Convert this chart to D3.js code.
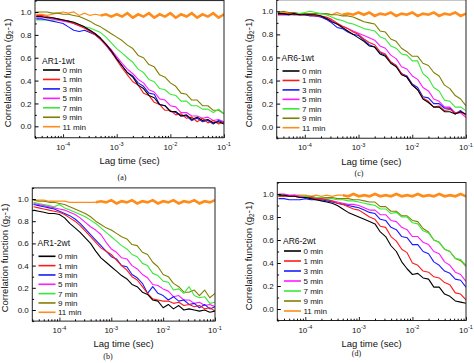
<!DOCTYPE html>
<html>
<head>
<meta charset="utf-8">
<script src="https://cdn.jsdelivr.net/npm/d3@7"></script>
<style>
  body { margin: 0; background: #fff; }
  svg { display: block; font-family: "Liberation Sans", Arial, sans-serif; }
</style>
</head>
<body>
<svg id="chart" width="474" height="363"></svg>
<script>
// lag time grid (sec), 10 points per decade
const lagTime = [3.16e-5, 3.98e-5, 5.01e-5, 6.31e-5, 7.94e-5, 1.00e-4, 1.26e-4, 1.58e-4, 2.00e-4, 2.51e-4,
  3.16e-4, 3.98e-4, 5.01e-4, 6.31e-4, 7.94e-4, 1.00e-3, 1.26e-3, 1.58e-3, 2.00e-3, 2.51e-3,
  3.16e-3, 3.98e-3, 5.01e-3, 6.31e-3, 7.94e-3, 1.00e-2, 1.26e-2, 1.58e-2, 2.00e-2, 2.51e-2,
  3.16e-2, 3.98e-2, 5.01e-2, 6.31e-2, 7.94e-2, 1.00e-1];

const seriesNames = ["0 min", "1 min", "3 min", "5 min", "7 min", "9 min", "11 min"];
const seriesColors = ["#000000", "#ff1a1a", "#1a1aff", "#ff1aff", "#3ae83a", "#808000", "#ff8c1a"];
const xTicks = [1e-4, 1e-3, 1e-2, 1e-1];
const xTickExp = ["-4", "-3", "-2", "-1"];
const yTicks = [0, 0.2, 0.4, 0.6, 0.8, 1.0];

// (a) AR1-1wt
const ar1_1wt = [
  [0.96,0.96,0.95,0.95,0.94,0.93,0.92,0.91,0.89,0.87,0.84,0.81,0.77,0.72,0.66,0.59,0.53,0.47,0.43,0.36,0.33,0.27,0.25,0.19,0.18,0.13,0.13,0.09,0.10,0.06,0.08,0.05,0.06,0.03,0.04,0.02],
  [0.97,0.97,0.96,0.95,0.94,0.93,0.92,0.90,0.88,0.86,0.83,0.80,0.76,0.71,0.65,0.58,0.51,0.45,0.39,0.36,0.29,0.27,0.21,0.19,0.14,0.14,0.10,0.11,0.07,0.08,0.04,0.07,0.03,0.05,0.02,0.04],
  [0.94,0.94,0.93,0.92,0.91,0.90,0.87,0.84,0.83,0.84,0.82,0.80,0.76,0.71,0.65,0.59,0.53,0.47,0.44,0.38,0.35,0.29,0.28,0.19,0.18,0.13,0.12,0.09,0.09,0.05,0.07,0.04,0.05,0.02,0.05,0.03],
  [0.95,0.95,0.95,0.94,0.93,0.92,0.91,0.90,0.88,0.86,0.84,0.81,0.77,0.72,0.67,0.61,0.55,0.50,0.46,0.41,0.38,0.32,0.30,0.24,0.23,0.18,0.17,0.12,0.12,0.09,0.09,0.07,0.08,0.05,0.06,0.04],
  [0.93,0.93,0.93,0.93,0.93,0.93,0.92,0.91,0.89,0.87,0.86,0.84,0.82,0.78,0.73,0.68,0.64,0.60,0.56,0.50,0.47,0.41,0.39,0.33,0.32,0.28,0.27,0.22,0.22,0.18,0.18,0.15,0.15,0.12,0.15,0.11],
  [1.00,1.00,1.00,0.99,0.99,0.98,0.98,0.97,0.96,0.94,0.92,0.89,0.87,0.84,0.81,0.78,0.75,0.71,0.68,0.62,0.60,0.54,0.52,0.45,0.43,0.38,0.35,0.29,0.28,0.23,0.23,0.18,0.18,0.14,0.14,0.11],
  [0.98,0.98,0.97,0.98,0.99,1.00,0.99,1.00,0.97,0.99,0.97,0.98,0.97,0.98,0.96,0.98,0.96,0.99,0.95,0.98,0.96,0.99,0.95,0.98,0.96,0.99,0.95,0.98,0.96,0.99,0.95,0.98,0.96,0.99,0.95,0.98]
];

// (c) AR6-1wt
const ar6_1wt = [
  [0.98,0.98,0.97,0.98,0.97,0.97,0.97,0.97,0.96,0.94,0.91,0.89,0.86,0.83,0.80,0.77,0.74,0.70,0.69,0.63,0.61,0.55,0.52,0.45,0.43,0.36,0.32,0.24,0.21,0.17,0.17,0.13,0.13,0.11,0.13,0.11],
  [0.97,0.98,0.98,0.97,0.97,0.97,0.97,0.96,0.96,0.95,0.93,0.90,0.87,0.85,0.82,0.80,0.76,0.73,0.71,0.65,0.63,0.56,0.53,0.46,0.43,0.36,0.32,0.25,0.22,0.17,0.18,0.14,0.15,0.12,0.13,0.10],
  [0.97,0.97,0.97,0.97,0.97,0.97,0.96,0.96,0.95,0.93,0.90,0.86,0.85,0.82,0.80,0.79,0.75,0.71,0.69,0.64,0.62,0.56,0.53,0.46,0.44,0.37,0.34,0.26,0.25,0.20,0.20,0.16,0.16,0.11,0.14,0.10],
  [0.97,0.97,0.97,0.98,0.97,0.97,0.97,0.96,0.95,0.94,0.92,0.89,0.87,0.85,0.83,0.81,0.79,0.77,0.75,0.70,0.68,0.62,0.59,0.52,0.50,0.44,0.41,0.34,0.31,0.24,0.22,0.17,0.17,0.12,0.12,0.08],
  [0.98,0.98,0.97,0.98,0.98,0.99,1.00,0.99,0.98,0.97,0.95,0.93,0.92,0.90,0.89,0.87,0.85,0.84,0.83,0.78,0.76,0.70,0.68,0.63,0.62,0.57,0.57,0.46,0.42,0.34,0.31,0.23,0.22,0.17,0.17,0.14],
  [0.99,1.00,0.99,0.99,0.98,0.98,0.98,0.98,0.98,0.98,0.97,0.97,0.96,0.96,0.95,0.93,0.91,0.90,0.89,0.83,0.82,0.76,0.74,0.68,0.65,0.61,0.61,0.55,0.53,0.47,0.44,0.36,0.33,0.27,0.24,0.18],
  [0.99,0.99,0.98,0.98,0.97,0.98,0.97,0.98,0.98,0.98,0.97,0.99,0.97,0.98,0.97,0.99,0.97,0.99,0.96,0.98,0.97,0.99,0.96,0.98,0.97,0.99,0.96,0.98,0.97,0.99,0.96,0.98,0.97,0.99,0.96,0.98]
];

// (b) AR1-2wt
const ar1_2wt = [
  [0.90,0.89,0.88,0.87,0.87,0.86,0.83,0.78,0.74,0.70,0.65,0.60,0.53,0.47,0.43,0.39,0.35,0.31,0.28,0.23,0.21,0.16,0.14,0.09,0.08,0.02,0.05,0.01,0.04,0.00,0.01,0.00,-0.01,0.00,-0.02,-0.01],
  [0.93,0.92,0.91,0.90,0.89,0.88,0.86,0.83,0.80,0.76,0.71,0.66,0.61,0.56,0.53,0.50,0.45,0.40,0.36,0.30,0.27,0.21,0.15,0.10,0.09,0.08,0.08,0.06,0.07,0.04,0.05,0.03,0.04,0.01,0.02,-0.01],
  [0.95,0.94,0.93,0.92,0.91,0.89,0.87,0.85,0.82,0.78,0.73,0.68,0.63,0.58,0.53,0.48,0.46,0.40,0.39,0.32,0.29,0.24,0.15,0.21,0.15,0.13,0.09,0.12,0.08,0.09,0.05,0.06,0.02,0.05,0.01,0.03],
  [0.96,0.95,0.94,0.93,0.92,0.91,0.90,0.88,0.86,0.83,0.79,0.75,0.72,0.68,0.61,0.55,0.52,0.47,0.46,0.40,0.37,0.32,0.29,0.23,0.22,0.19,0.17,0.12,0.13,0.09,0.09,0.06,0.07,0.04,0.05,0.03],
  [0.97,0.96,0.95,0.94,0.93,0.95,0.92,0.90,0.88,0.86,0.84,0.81,0.78,0.74,0.70,0.66,0.62,0.58,0.55,0.50,0.48,0.42,0.40,0.33,0.31,0.26,0.25,0.18,0.19,0.15,0.21,0.13,0.11,0.12,0.06,0.07],
  [0.99,0.98,0.98,0.97,0.97,0.96,0.95,0.93,0.91,0.89,0.87,0.84,0.80,0.77,0.74,0.72,0.69,0.66,0.64,0.59,0.58,0.52,0.50,0.43,0.39,0.32,0.30,0.24,0.21,0.16,0.16,0.18,0.13,0.18,0.11,0.15],
  [0.99,0.99,0.99,0.98,0.98,0.98,0.98,0.97,0.97,0.97,0.97,0.97,0.97,0.98,0.97,0.99,0.96,0.98,0.97,0.99,0.96,0.98,0.97,0.99,0.96,0.98,0.97,0.99,0.96,0.98,0.97,0.99,0.96,0.98,0.97,0.99]
];

// (d) AR6-2wt
const ar6_2wt = [
  [0.99,0.99,0.98,0.98,0.97,0.97,0.96,0.95,0.94,0.93,0.92,0.90,0.87,0.84,0.82,0.80,0.78,0.76,0.74,0.67,0.63,0.55,0.50,0.41,0.35,0.30,0.31,0.27,0.26,0.19,0.19,0.13,0.11,0.07,0.06,0.05],
  [0.98,0.98,0.98,0.98,0.97,0.97,0.97,0.96,0.96,0.95,0.94,0.92,0.91,0.89,0.87,0.86,0.83,0.80,0.78,0.72,0.71,0.63,0.59,0.52,0.49,0.40,0.38,0.33,0.32,0.28,0.27,0.23,0.21,0.14,0.13,0.08],
  [0.96,0.96,0.95,0.95,0.95,0.96,0.95,0.95,0.95,0.94,0.93,0.92,0.91,0.90,0.89,0.88,0.86,0.84,0.83,0.78,0.77,0.71,0.69,0.63,0.62,0.56,0.56,0.50,0.48,0.41,0.38,0.33,0.31,0.26,0.25,0.19],
  [1.00,1.00,0.99,0.99,0.98,0.97,0.97,0.96,0.96,0.95,0.94,0.93,0.92,0.91,0.91,0.90,0.88,0.86,0.86,0.82,0.82,0.77,0.76,0.71,0.69,0.63,0.63,0.58,0.56,0.50,0.48,0.41,0.38,0.32,0.30,0.24],
  [0.98,0.98,0.98,0.98,0.98,0.98,0.97,0.97,0.97,0.96,0.96,0.95,0.95,0.94,0.94,0.93,0.92,0.91,0.90,0.87,0.87,0.83,0.84,0.80,0.80,0.75,0.74,0.68,0.66,0.60,0.58,0.52,0.50,0.44,0.43,0.38],
  [0.98,0.98,0.98,0.98,0.98,0.98,0.98,0.97,0.97,0.97,0.97,0.96,0.96,0.96,0.95,0.95,0.94,0.93,0.93,0.89,0.89,0.85,0.85,0.81,0.81,0.77,0.76,0.70,0.67,0.60,0.58,0.52,0.50,0.44,0.42,0.37],
  [0.98,0.98,0.98,0.99,0.99,0.99,0.98,0.99,0.98,0.99,0.98,0.99,0.99,0.98,1.00,0.98,0.99,0.98,1.00,0.98,0.99,0.98,1.00,0.98,0.99,0.98,1.00,0.98,0.99,0.98,1.00,0.98,0.99,0.98,1.00,0.98]
];

const svg = d3.select("#chart");

const panels = [
  { data: ar1_1wt, title: "AR1-1wt", tag: "(a)", left: 35, right: 224, y1: 12, y0: 126.3,
    legX: 43, legTitleY: 63.5, legY: 70, legStep: 9.45, ylabX: 11, ylabY: 73, xlabY: 164, tagX: 122, tagY: 179.5 },
  { data: ar6_1wt, title: "AR6-1wt", tag: "(c)", left: 276.7, right: 466, y1: 11.3, y0: 126.7,
    legX: 282.5, legTitleY: 60.5, legY: 71, legStep: 9.45, ylabX: 251.5, ylabY: 73, xlabY: 165, tagX: 359, tagY: 176 },
  { data: ar1_2wt, title: "AR1-2wt", tag: "(b)", left: 32.3, right: 215, y1: 199, y0: 310,
    legX: 38.5, legTitleY: 245.5, legY: 256.3, legStep: 9.33, ylabX: 8, ylabY: 258, xlabY: 346.5, tagX: 108, tagY: 359 },
  { data: ar6_2wt, title: "AR6-2wt", tag: "(d)", left: 277.3, right: 466, y1: 194, y0: 309,
    legX: 284, legTitleY: 244, legY: 251, legStep: 10, ylabX: 252, ylabY: 256, xlabY: 346.5, tagX: 356.5, tagY: 356 }
];

const ink = "#111";

panels.forEach((p, pi) => {
  const x = d3.scaleLog().domain([3e-5, 0.1]).range([p.left, p.right]);
  const y = d3.scaleLinear().domain([0, 1]).range([p.y0, p.y1]);
  const top = y(1.1), bottom = y(-0.1);

  const g = svg.append("g");

  g.append("clipPath").attr("id", "clip" + pi)
    .append("rect")
      .attr("x", p.left).attr("y", top)
      .attr("width", p.right - p.left).attr("height", bottom - top);

  const line = d3.line()
    .x((d, i) => x(lagTime[i]))
    .y(d => y(d));

  const plot = g.append("g").attr("clip-path", `url(#clip${pi})`);

  // 11 min (orange) first, noisy band gets thicker at long lag times
  const orange = p.data[6];
  plot.append("path")
    .attr("fill", "none").attr("stroke", seriesColors[6]).attr("stroke-width", 1.2)
    .attr("d", line.defined((d, i) => i <= 12)(orange));
  plot.append("path")
    .attr("fill", "none").attr("stroke", seriesColors[6]).attr("stroke-width", 2.6)
    .attr("d", line.defined((d, i) => i >= 12)(orange));
  line.defined(() => true);

  // other curves, 9 min down to 0 min
  plot.selectAll("path.curve")
    .data(p.data.slice(0, 6).reverse())
    .join("path")
      .attr("class", "curve")
      .attr("fill", "none")
      .attr("stroke", (d, i) => seriesColors[5 - i])
      .attr("stroke-width", 1.1)
      .attr("stroke-linejoin", "round")
      .attr("d", line);

  // frame
  g.append("rect")
    .attr("x", p.left).attr("y", top)
    .attr("width", p.right - p.left).attr("height", bottom - top)
    .attr("fill", "none").attr("stroke", "#222").attr("stroke-width", 1);

  // x axis ticks (inward)
  const minor = [];
  [1e-5, 1e-4, 1e-3, 1e-2].forEach(dec => {
    for (let k = 2; k <= 9; k++) {
      const v = dec * k;
      if (v >= 3e-5 && v <= 0.1) minor.push(v);
    }
  });
  g.append("g")
    .attr("transform", `translate(0,${bottom})`)
    .call(d3.axisBottom(x).tickValues(minor).tickSize(-1.8).tickFormat(""))
    .call(a => a.select(".domain").remove());
  const xa = g.append("g")
    .attr("transform", `translate(0,${bottom})`)
    .call(d3.axisBottom(x).tickValues(xTicks).tickSize(-3.5).tickFormat(""))
    .call(a => a.select(".domain").remove());
  xa.selectAll(".tick line").attr("stroke", "#222");

  const xl = g.append("g").selectAll("text")
    .data(xTicks)
    .join("text")
      .attr("x", d => x(d))
      .attr("y", bottom + 12)
      .attr("text-anchor", "middle")
      .attr("font-size", 8)
      .attr("fill", ink);
  xl.append("tspan").text("10");
  xl.append("tspan").attr("dy", -3.5).attr("font-size", 5.5).text((d, i) => xTickExp[i]);

  // y axis
  const ya = g.append("g")
    .attr("transform", `translate(${p.left},0)`)
    .call(d3.axisLeft(y).tickValues(yTicks).tickSize(-3.5).tickPadding(3.5).tickFormat(d3.format(".1f")))
    .call(a => a.select(".domain").remove());
  ya.selectAll("text").attr("font-size", 8).attr("fill", ink).attr("font-family", "Liberation Sans, Arial, sans-serif");
  g.append("g")
    .attr("transform", `translate(${p.left},0)`)
    .call(d3.axisLeft(y).tickValues([-0.1, 0.1, 0.3, 0.5, 0.7, 0.9, 1.1]).tickSize(-1.8).tickFormat(""))
    .call(a => a.select(".domain").remove());

  // axis titles
  const yl = g.append("text")
    .attr("transform", `translate(${p.ylabX},${p.ylabY}) rotate(-90)`)
    .attr("text-anchor", "middle")
    .attr("font-size", 9.5)
    .attr("fill", ink);
  yl.append("tspan").text("Correlation function (g");
  yl.append("tspan").attr("font-size", 6.5).attr("dy", 2).text("2");
  yl.append("tspan").attr("dy", -2).text("-1)");

  g.append("text")
    .attr("x", (p.left + p.right) / 2)
    .attr("y", p.xlabY)
    .attr("text-anchor", "middle")
    .attr("font-size", 9.5)
    .attr("fill", ink)
    .text("Lag time (sec)");

  g.append("text")
    .attr("x", p.tagX)
    .attr("y", p.tagY)
    .attr("text-anchor", "middle")
    .attr("font-size", 8)
    .attr("font-family", "Liberation Serif, serif")
    .attr("fill", ink)
    .text(p.tag);

  // legend
  g.append("text")
    .attr("x", p.legX - 1)
    .attr("y", p.legTitleY)
    .attr("font-size", 8.5)
    .attr("fill", ink)
    .text(p.title);

  const leg = g.append("g").selectAll("g")
    .data(seriesNames)
    .join("g")
      .attr("transform", (d, i) => `translate(${p.legX},${p.legY + i * p.legStep})`);
  leg.append("line")
    .attr("x1", 0).attr("x2", 17)
    .attr("stroke", (d, i) => seriesColors[i])
    .attr("stroke-width", 1.6);
  leg.append("text")
    .attr("x", 19.5)
    .attr("y", 3)
    .attr("font-size", 8)
    .attr("fill", ink)
    .text(d => d);
});
</script>
</body>
</html>
